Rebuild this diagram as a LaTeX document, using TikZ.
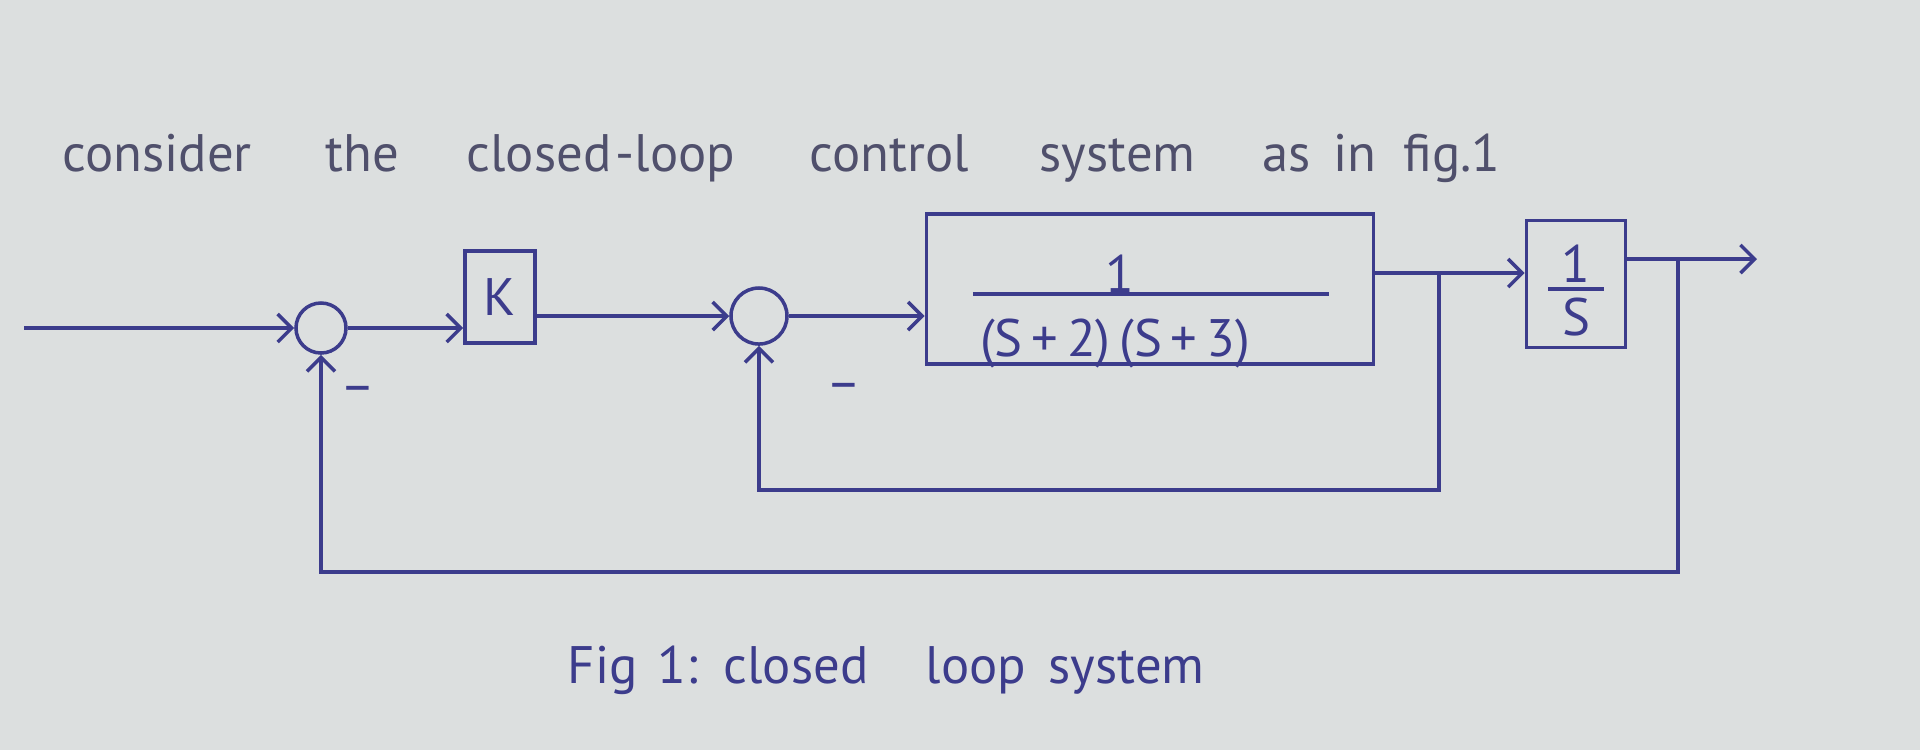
\documentclass[tikz,border=0pt]{standalone}
\usepackage{fontspec}
\setmainfont{PT Sans}
\usetikzlibrary{arrows.meta}
\usetikzlibrary{positioning}
\definecolor{paper}{HTML}{DCDFDF}
\definecolor{ink}{HTML}{3C3C8C}
\definecolor{pencil}{HTML}{50506C}
\tikzset{block/.style={rectangle,draw=ink,line width=1pt,inner sep=0pt,text=ink,font=\fontsize{15}{18}\selectfont},
         sum node/.style={circle,draw=ink,line width=1pt,minimum size=0.5cm,inner sep=0pt},
         word/.style={anchor=base west,text=pencil,inner sep=0pt,font=\fontsize{15}{18}\selectfont},
         caption word/.style={word,text=ink},
         label text/.style={text=ink,inner sep=0pt,font=\fontsize{15}{18}\selectfont},
            }

\begin{document}
\begin{tikzpicture}[x=0.01cm,y=-0.01cm,line width=1pt,>={Straight Barb[length=4pt,width=8pt]},->,draw=ink]
    \fill[paper] (0,0) rectangle (1920,750);

    % text line above the diagram
    \node[word] (t1) at (61,171) {consider};
    \node[word] (t2) at (324,171) {the};
    \node[word] (t3) at (465,171) {closed};
    \node[word] (t4) at (614,171) {-loop};
    \node[word] (t5) at (808,171) {control};
    \node[word] (t6) at (1038,171) {system};
    \node[word] (t7) at (1261,171) {as};
    \node[word] (t8) at (1332,171) {in};
    \node[word] (t9) at (1402,171) {fig.1};

    % blocks
    \node[sum node] (S1) at (321,328) {};
    \node[block,minimum width=0.70cm,minimum height=0.92cm] (K) at (500,297) {K};
    \node[sum node,minimum size=0.56cm] (S2) at (759,316) {};
    \node[block,minimum width=4.47cm,minimum height=1.50cm] (G) at (1150,289) {};
    \node[label text] (Gn) at (1120,274) {1};
    \node[label text] (Gb) at (1151,294) {\rule{3.56cm}{1pt}};
    \node[label text] (Gd) at (1115,344) {(S\,+\,2)\,(S\,+\,3)};
    \node[block,minimum width=0.99cm,minimum height=1.27cm] (H) at (1576,284) {};
    \node[label text] (Hn) at (1576,264) {1};
    \node[label text] (Hb) at (1576,289) {\rule{0.55cm}{1pt}};
    \node[label text] (Hd) at (1576,317) {S};
    \node[label text] (m1) at (358,395) {--};
    \node[label text] (m2) at (844,392) {--};

    \coordinate (in) at (24,328);
    \coordinate (b1) at (1439,273);
    \coordinate (c1) at (1439,490);
    \coordinate (b2) at (1678,259);
    \coordinate (c2) at (1678,572);
    \coordinate (out) at (1757,259);

    % forward path
    \draw (in) -- (S1);
    \draw (S1) -- (S1.east -| K.west);
    \draw (K.east |- S2) -- (S2);
    \draw (S2) -- (S2 -| G.west);
    \draw (G.east |- b1) -- (H.west |- b1);
    \draw (H.east |- out) -- (out);

    % feedback paths
    \draw (b1) -- (c1) -| (S2);
    \draw (b2) -- (c2) -| (S1);

    % caption
    \node[caption word] (f1) at (566,683) {Fig};
    \node[caption word] (f2) at (656,683) {1:};
    \node[caption word] (f3) at (722,683) {closed};
    \node[caption word] (f4) at (924,683) {loop};
    \node[caption word] (f5) at (1047,683) {system};
  \end{tikzpicture}
\end{document}
